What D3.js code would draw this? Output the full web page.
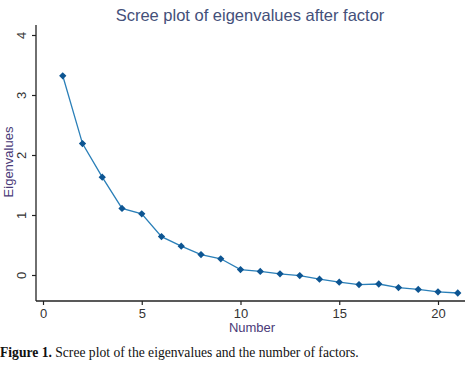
<!DOCTYPE html>
<html>
<head>
<meta charset="utf-8">
<script src="https://cdn.jsdelivr.net/npm/d3@7"></script>
<style>
  body { margin: 0; background: #fff; }
  svg { display: block; }
</style>
</head>
<body>
<svg width="474" height="366"></svg>
<script>
// scree data
let vNumbers = [1, 2, 3, 4, 5, 6, 7, 8, 9, 10, 11, 12, 13, 14, 15, 16, 17, 18, 19, 20, 21];
let vEigen = [3.32, 2.19, 1.63, 1.11, 1.02, 0.64, 0.48, 0.34, 0.27, 0.09, 0.06, 0.02, -0.01,
  -0.07, -0.12, -0.16, -0.15, -0.21, -0.24, -0.28, -0.30];
let vXTicks = [0, 5, 10, 15, 20];
let vYTicks = [0, 1, 2, 3, 4];

let svg = d3.select('svg');

let x = d3.scaleLinear().domain([0, 20]).range([43, 438]);
let y = d3.scaleLinear().domain([0, 4]).range([275, 35]);

let axisX = svg.append('g')
  .attr('transform', 'translate(0, 301)')
  .call(d3.axisBottom(x).tickValues(vXTicks).tickFormat(d3.format('d')).tickSize(4).tickSizeOuter(0));
axisX.select('.domain').remove();
axisX.append('line')
  .attr('x1', 36).attr('x2', 465).attr('stroke', '#222').attr('stroke-width', 1.3);

let axisY = svg.append('g')
  .attr('transform', 'translate(36, 0)')
  .call(d3.axisLeft(y).tickValues(vYTicks).tickFormat(d3.format('d')).tickSize(4).tickSizeOuter(0));
axisY.select('.domain').remove();
axisY.append('line')
  .attr('y1', 25).attr('y2', 301).attr('stroke', '#222').attr('stroke-width', 1.3);

svg.selectAll('.tick line').attr('stroke', '#222').attr('stroke-width', 1.2);
svg.selectAll('.tick text')
  .attr('font-family', 'Arial, Liberation Sans, sans-serif')
  .attr('font-size', 13)
  .attr('fill', '#333');
axisX.selectAll('.tick text').attr('y', 8);
axisY.selectAll('.tick text')
  .attr('x', 0).attr('y', 0)
  .attr('text-anchor', 'middle')
  .attr('transform', 'translate(-15, 0) rotate(-90)')
  .attr('dy', '0.35em');

let vLine = d3.line()
  .x((d, i) => x(vNumbers[i]))
  .y((d) => y(d));

svg.append('path')
  .datum(vEigen)
  .attr('d', vLine)
  .attr('fill', 'none')
  .attr('stroke', '#2a7fb8')
  .attr('stroke-width', 1.3);

svg.selectAll('.pt')
  .data(vEigen)
  .enter()
  .append('path')
  .attr('class', 'pt')
  .attr('d', d3.symbol(d3.symbolDiamond2, 34))
  .attr('transform', (d, i) => `translate(${x(vNumbers[i])}, ${y(d)})`)
  .attr('fill', '#0d5592');

svg.append('text')
  .attr('x', 250).attr('y', 21)
  .attr('text-anchor', 'middle')
  .attr('font-family', 'Arial, Liberation Sans, sans-serif')
  .attr('font-size', 16.5)
  .attr('fill', '#44507a')
  .text('Scree plot of eigenvalues after factor');

svg.append('text')
  .attr('transform', 'translate(13, 162) rotate(-90)')
  .attr('text-anchor', 'middle')
  .attr('font-family', 'Arial, Liberation Sans, sans-serif')
  .attr('font-size', 13)
  .attr('fill', '#4a3a78')
  .text('Eigenvalues');

svg.append('text')
  .attr('x', 252).attr('y', 332)
  .attr('text-anchor', 'middle')
  .attr('font-family', 'Arial, Liberation Sans, sans-serif')
  .attr('font-size', 13)
  .attr('fill', '#4a3a78')
  .text('Number');

let cap = svg.append('text')
  .attr('x', 0).attr('y', 357)
  .attr('font-family', 'Liberation Serif, DejaVu Serif, serif')
  .attr('font-size', 13.6)
  .attr('fill', '#111');
cap.append('tspan').attr('font-weight', 'bold').text('Figure 1.');
cap.append('tspan').text(' Scree plot of the eigenvalues and the number of factors.');
</script>
</body>
</html>
